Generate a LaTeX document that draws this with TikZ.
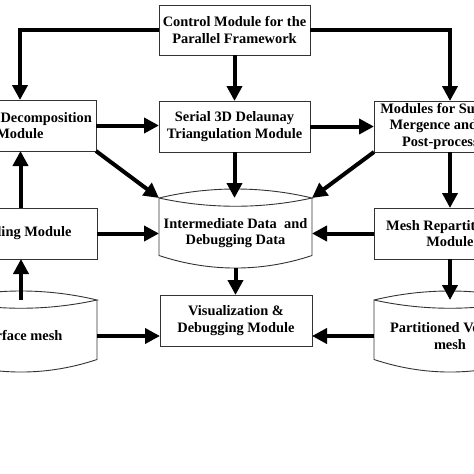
\documentclass[tikz,border=0pt]{standalone}
\usepackage{fontspec}
\setmainfont{Liberation Serif}
\usetikzlibrary{arrows.meta,calc}
\begin{document}
\begin{tikzpicture}[x=1pt,y=-1pt,
  txt/.style={inner sep=0pt, outer sep=0pt, align=center, font=\fontsize{14.4}{16.5}\selectfont\bfseries},
  box/.style={txt, draw=black!80, line width=0.9pt},
  drum/.style={txt},
  outline/.style={draw=black!80, line width=0.9pt},
  arr/.style={line width=4pt, -{Triangle[length=15pt,width=15pt]}}]
\useasboundingbox (0,0) rectangle (474,474);
\fill[white] (0,0) rectangle (474,474);
\clip (0,0) rectangle (474,474);
% rectangular modules
\node[box, minimum width=151pt, minimum height=50pt] (ctrl) at (234.5,30) {Control Module for the\\Parallel Framework};
\node[box, minimum width=152pt, minimum height=51pt] (dd) at (20,125.5) {Domain Decomposition\\Module};
\node[box, minimum width=151pt, minimum height=51pt] (sd) at (234.5,126.5) {Serial 3D Delaunay\\Triangulation Module};
\node[box, minimum width=152pt, minimum height=51pt] (mods) at (450,126.5) {Modules for Sub-mesh\\Mergence and Data\\Post-processing};
\node[box, minimum width=153pt, minimum height=51pt] (load) at (20.5,233.5) {Loading Module};
\node[box, minimum width=152pt, minimum height=51pt] (meshrep) at (450,233.5) {Mesh Repartitioning\\Module};
\node[box, minimum width=152pt, minimum height=51pt] (vis) at (236,320.5) {Visualization \&\\Debugging Module};
% data stores
\node[drum, minimum width=153pt, minimum height=70pt] (inter) at (235.5,233) {Intermediate Data\ \ and\\Debugging Data};
\node[drum, minimum width=152pt, minimum height=72pt] (surf) at (21,336) {Surface mesh};
\node[drum, minimum width=152pt, minimum height=72pt] (part) at (450,336) {Partitioned Volume\\mesh};
\foreach \n in {inter,surf,part}{
  \draw[outline] (\n.north west) .. controls +(50,-12) and +(-50,-12) .. (\n.north east)
    .. controls +(-50,11) and +(50,11) .. (\n.north west)
    -- ($(\n.south west)+(0,-12.5)$) .. controls +(50,16.7) and +(-50,16.7) .. ($(\n.south east)+(0,-12.5)$)
    -- (\n.north east);
}
% connectors
\draw[arr] (ctrl.west) -| (dd.north);
\draw[arr] (ctrl.east) -| (mods.north);
\draw[arr] (ctrl.south) -- (sd.north);
\draw[arr] (dd.east) -- (dd.east -| sd.west);
\draw[arr] (sd.east) -- (sd.east -| mods.west);
\draw[arr] (dd.south east) -- (inter.north west);
\draw[arr] (mods.south west) -- (inter.north east);
\draw[arr] (sd.south) -- (sd.south |- inter.north);
\draw[arr] (load.north) -- (load.north |- dd.south);
\draw[arr] (load.east) -- (load.east -| inter.west);
\draw[arr] (meshrep.west) -- (meshrep.west -| inter.east);
\draw[arr] (mods.south) -- (meshrep.north);
\draw[arr] (meshrep.south) -- (part.north);
\draw[arr] (surf.north) -- (surf.north |- load.south);
\draw[arr] (inter.south) -- (inter.south |- vis.north);
\draw[arr] (surf.east) -- (surf.east -| vis.west);
\draw[arr] (part.west) -- (part.west -| vis.east);
\end{tikzpicture}
\end{document}
